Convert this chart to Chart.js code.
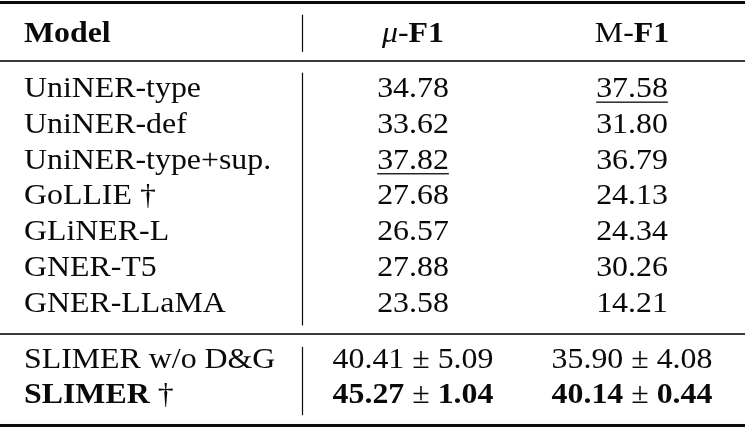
<!DOCTYPE html>
<html>
<head>
<meta charset="utf-8">
<script src="https://cdn.jsdelivr.net/npm/chart.js@4.4.1/dist/chart.umd.min.js"></script>
<style>
  html, body { margin: 0; padding: 0; background: #ffffff; }
  #wrap { width: 745px; height: 430px; }
  canvas { display: block; }
  .probe { position: absolute; left: -9999px; top: 0; font-family: "Liberation Serif"; }
</style>
</head>
<body>
<div id="wrap"><canvas id="c" width="745" height="430"></canvas></div>
<span class="probe">Ab <b>Ab</b> <i>μ</i></span>
<script>
// ---------------- data ----------------
const headerLabels = ['Model', 'μ-F1', 'M-F1'];
const baselineModels = ['UniNER-type', 'UniNER-def', 'UniNER-type+sup.', 'GoLLIE †', 'GLiNER-L', 'GNER-T5', 'GNER-LLaMA'];
const baselineMicroF1 = [34.78, 33.62, 37.82, 27.68, 26.57, 27.88, 23.58];
const baselineMacroF1 = [37.58, 31.80, 36.79, 24.13, 24.34, 30.26, 14.21];
const oursModels = ['SLIMER w/o D&G', 'SLIMER †'];
const oursMicroF1 = [40.41, 45.27];
const oursMicroStd = [5.09, 1.04];
const oursMacroF1 = [35.90, 40.14];
const oursMacroStd = [4.08, 0.44];

// ---------------- styling / layout ----------------
const INK = '#0a0a0a';
const FS = 29.5;          // font size (px)
const SX = 1.08;          // horizontal text stretch
const FAMILY = '"Liberation Serif", Tinos, "Times New Roman", Times, serif';
const REG = `${FS}px ${FAMILY}`;
const BOLD = `bold ${FS}px ${FAMILY}`;
const ITAL = `italic ${FS}px ${FAMILY}`;

const ROW_PX = 35.8;                 // pixels per row unit on the y scale
const Y_MAX = 430 / ROW_PX;
const HEADER_ROW = 1.16;
const FIRST_BODY_ROW = 2.71;
const FIRST_OURS_ROW = 10.29;
const OURS_PITCH = 0.978;

const COL_MODEL = 24;     // left edge of model column
const COL_MICRO = 413;    // centre of μ-F1 column
const COL_MACRO = 632;    // centre of M-F1 column
const COL_RULE = 302.5;   // vertical separator

const fmt = v => v.toFixed(2);
const bodyRow = i => FIRST_BODY_ROW + i;
const oursRow = i => FIRST_OURS_ROW + i * OURS_PITCH;

// underline = best among baselines, bold = best among ours
const bestBaseMicro = Math.max(...baselineMicroF1);
const bestBaseMacro = Math.max(...baselineMacroF1);
const bestOurs = oursMicroF1.indexOf(Math.max(...oursMicroF1));

// ---------------- datasets (one point per cell) ----------------
const headerCells = {
  label: 'header', align: 'center',
  data: [ {x: COL_MICRO, y: HEADER_ROW}, {x: COL_MACRO, y: HEADER_ROW} ],
  cells: [
    [[headerLabels[1].slice(0, 1), ITAL], ['-', REG], ['F1', BOLD]],
    [['M', REG], ['-', REG], ['F1', BOLD]]
  ]
};
const headerModel = {
  label: 'headerModel', align: 'left',
  data: [ {x: COL_MODEL, y: HEADER_ROW} ],
  cells: [ [[headerLabels[0], BOLD]] ]
};
const modelCells = {
  label: 'models', align: 'left',
  data: baselineModels.map((m, i) => ({x: COL_MODEL, y: bodyRow(i)}))
    .concat(oursModels.map((m, i) => ({x: COL_MODEL, y: oursRow(i)}))),
  cells: baselineModels.map(m => [[m, REG]])
    .concat(oursModels.map((m, i) => {
      if (i !== bestOurs) return [[m, REG]];
      const k = m.indexOf(' †');
      return k >= 0 ? [[m.slice(0, k), BOLD], [m.slice(k), REG]] : [[m, BOLD]];
    }))
};
function valueCells(base, ours, std, best, colX) {
  return {
    label: 'vals', align: 'center',
    underline: base.map(v => v === best).concat(ours.map(() => false)),
    data: base.map((v, i) => ({x: colX, y: bodyRow(i)}))
      .concat(ours.map((v, i) => ({x: colX, y: oursRow(i)}))),
    cells: base.map(v => [[fmt(v), REG]])
      .concat(ours.map((v, i) => {
        const f = i === bestOurs ? BOLD : REG;
        return [[fmt(v), f], [' ± ', REG], [fmt(std[i]), f]];
      }))
  };
}
const microCells = valueCells(baselineMicroF1, oursMicroF1, oursMicroStd, bestBaseMicro, COL_MICRO);
const macroCells = valueCells(baselineMacroF1, oursMacroF1, oursMacroStd, bestBaseMacro, COL_MACRO);

const datasets = [headerModel, headerCells, modelCells, microCells, macroCells]
  .map(d => Object.assign(d, { pointRadius: 0, pointHoverRadius: 0, showLine: false }));

// ---------------- drawing plugin ----------------
function drawRuns(ctx, runs, x, y, align, underline) {
  const widths = runs.map(([t, f]) => { ctx.font = f; return ctx.measureText(t).width * SX; });
  const total = widths.reduce((a, b) => a + b, 0);
  let cx = align === 'center' ? x - total / 2 : x;
  const start = cx;
  runs.forEach(([t, f], k) => {
    ctx.save();
    ctx.translate(cx, y);
    ctx.scale(SX, 1);
    ctx.font = f;
    ctx.textAlign = 'left';
    ctx.textBaseline = 'alphabetic';
    ctx.fillText(t, 0, 0);
    ctx.restore();
    cx += widths[k];
  });
  if (underline) ctx.fillRect(start, y + 4.5, total, 1.3);
}

const tablePlugin = {
  id: 'tablePlugin',
  afterDatasetsDraw(chart) {
    const ctx = chart.ctx;
    const xs = chart.scales.x, ys = chart.scales.y;
    ctx.save();
    ctx.fillStyle = INK;
    const hrule = (v, w) => {
      const y = ys.getPixelForValue(v);
      ctx.fillRect(xs.getPixelForValue(0), y - w / 2, xs.getPixelForValue(745) - xs.getPixelForValue(0), w);
    };
    const vrule = (a, b) => {
      const x = xs.getPixelForValue(COL_RULE);
      const y0 = ys.getPixelForValue(a), y1 = ys.getPixelForValue(b);
      ctx.fillRect(x - 0.6, y0, 1.2, y1 - y0);
    };
    hrule(0.07, 3);
    hrule(1.704, 1.6);
    hrule(9.33, 1.6);
    hrule(11.885, 3);
    vrule(HEADER_ROW - 0.75, HEADER_ROW + 0.29);
    vrule(bodyRow(0) - 0.68, bodyRow(baselineModels.length - 1) + 0.38);
    vrule(oursRow(0) - 0.6, oursRow(oursModels.length - 1) + 0.33);

    chart.data.datasets.forEach((ds, di) => {
      const meta = chart.getDatasetMeta(di);
      meta.data.forEach((el, i) => {
        drawRuns(ctx, ds.cells[i], el.x, el.y, ds.align, ds.underline && ds.underline[i]);
      });
    });
    ctx.restore();
  }
};

function build() {
  new Chart(document.getElementById('c'), {
    type: 'scatter',
    data: { datasets },
    options: {
      responsive: false,
      animation: false,
      events: [],
      layout: { padding: 0 },
      plugins: { legend: { display: false }, tooltip: { enabled: false } },
      scales: {
        x: { type: 'linear', min: 0, max: 745, display: false },
        y: { type: 'linear', min: 0, max: Y_MAX, reverse: true, display: false }
      }
    },
    plugins: [tablePlugin]
  });
}

const loads = [REG, BOLD, ITAL].map(f => document.fonts.load(f, 'Ab0μ†±'));
Promise.all(loads).then(build, build);
</script>
</body>
</html>
